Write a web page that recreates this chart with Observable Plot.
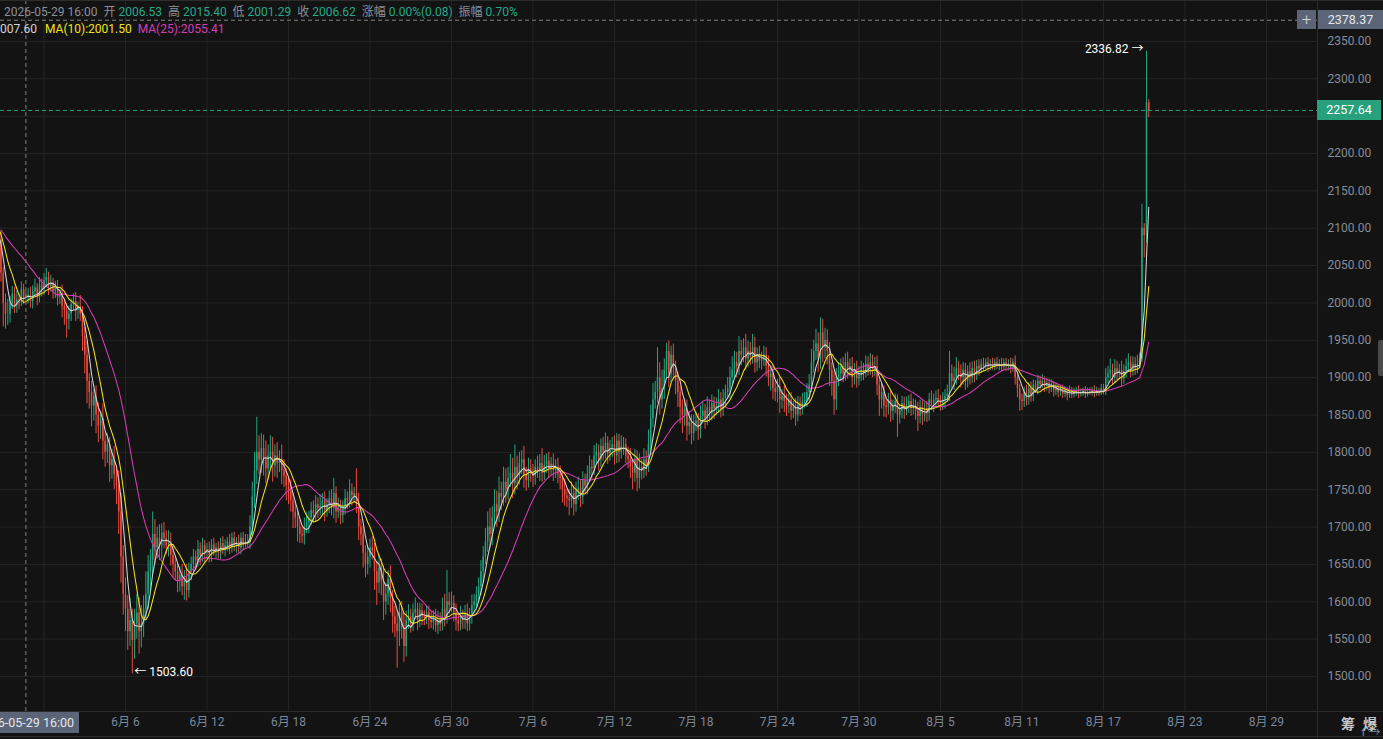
<!DOCTYPE html>
<html><head><meta charset="utf-8">
<script src="https://cdn.jsdelivr.net/npm/d3@7"></script>
<script src="https://cdn.jsdelivr.net/npm/@observablehq/plot@0.6"></script>
<style>
html,body{margin:0;padding:0;background:#131313;overflow:hidden;}
#wrap{position:relative;width:1383px;height:739px;overflow:hidden;font-family:Roboto,"Noto Sans CJK SC",sans-serif;font-size:12px;}
#wrap svg{position:absolute;left:0;top:0;}
.abs{position:absolute;white-space:nowrap;}
.g{color:#8a8f98;} .v{color:#26a88a;}
</style></head><body><div id="wrap"></div>
<script>
// ---------- DATA (4h candles) ----------
const candleStart = "2026-05-23T20:00:00Z";
const candleHours = 4;
const closes = [
2095,
2102,2090,2098,2105,2092,2088,
2100,2096,2104,2095,2110,2115,
2108,2120,2112,2105,2110,2098,
2095,2100,2088,2085,2084,2040,
2000,1985,1985,1999,2012,1996,
2004,2003,2018,2006.53,2006.62,2010,
2002,2015,2020,2008,2024,2018,
2030,2034,2022,2027,2015,2020,
2008,2012,1995,1990,1978,1985,
1998,2002,1990,1995,1985,1955,
1930,1895,1880,1862,1875,1850,
1835,1845,1815,1800,1810,1782,
1790,1770,1755,1720,1660,1610,
1590,1560,1575,1548,1570,1585,
1560,1570,1590,1610,1640,1655,
1690,1672,1685,1675,1692,1685,
1675,1680,1662,1650,1640,1628,
1635,1620,1632,1615,1640,1650,
1660,1655,1670,1662,1675,1665,
1670,1662,1676,1668,1672,1665,
1678,1670,1675,1680,1672,1685,
1675,1680,1672,1685,1678,1680,
1680,1700,1740,1775,1800,1790,
1805,1790,1778,1795,1800,1782,
1795,1785,1790,1775,1768,1755,
1748,1735,1720,1712,1700,1690,
1688,1700,1705,1712,1722,1718,
1730,1725,1728,1735,1722,1730,
1738,1725,1745,1720,1728,1715,
1725,1738,1735,1748,1742,1745,
1730,1700,1690,1665,1650,1660,
1672,1668,1640,1625,1645,1628,
1600,1610,1630,1605,1580,1570,
1560,1585,1565,1540,1575,1580,
1570,1585,1590,1575,1588,1580,
1578,1585,1575,1572,1580,1568,
1575,1570,1590,1580,1600,1595,
1598,1585,1575,1570,1580,1575,
1585,1570,1582,1595,1600,1608,
1620,1640,1660,1680,1700,1690,
1712,1730,1720,1745,1740,1760,
1750,1765,1772,1758,1780,1768,
1785,1790,1770,1762,1778,1772,
1768,1780,1775,1785,1772,1782,
1788,1778,1784,1775,1780,1770,
1765,1750,1742,1738,1735,1745,
1730,1748,1752,1740,1762,1755,
1770,1780,1778,1795,1800,1790,
1808,1800,1812,1798,1805,1810,
1795,1815,1800,1808,1810,1795,
1790,1780,1772,1790,1765,1780,
1775,1790,1782,1810,1845,1870,
1880,1900,1870,1885,1910,1935,
1905,1930,1912,1895,1880,1860,
1850,1858,1835,1840,1825,1838,
1842,1830,1848,1855,1845,1860,
1852,1865,1858,1862,1870,1858,
1872,1880,1885,1900,1910,1920,
1915,1935,1930,1940,1925,1935,
1928,1940,1920,1930,1922,1925,
1930,1915,1900,1905,1885,1880,
1888,1870,1875,1868,1862,1870,
1855,1860,1850,1865,1860,1868,
1870,1880,1890,1920,1935,1945,
1925,1960,1940,1950,1935,1910,
1895,1870,1900,1905,1915,1905,
1920,1910,1915,1900,1910,1898,
1905,1910,1908,1918,1912,1920,
1910,1915,1890,1870,1880,1862,
1860,1870,1855,1862,1868,1850,
1855,1865,1858,1862,1868,1860,
1862,1855,1848,1860,1850,1858,
1852,1870,1865,1870,1872,1868,
1865,1870,1875,1878,1905,1895,
1900,1912,1905,1900,1910,1895,
1908,1900,1912,1905,1915,1912,
1918,1915,1920,1915,1918,1915,
1920,1916,1918,1914,1920,1915,
1918,1912,1920,1900,1885,1870,
1868,1880,1872,1885,1875,1890,
1885,1895,1890,1895,1888,1892,
1885,1890,1882,1885,1880,1885,
1878,1882,1876,1882,1878,1880,
1883,1878,1880,1882,1878,1881,
1880,1883,1879,1882,1880,1885,
1882,1900,1905,1910,1900,1912,
1905,1910,1898,1908,1915,1920,
1910,1918,1912,1918,1925,2100,
2090,2268,2257.64
];
// upper wick above max(open, close)
const upperWicks = [
6,
8,5,9,6,7,10,
7,9,5,8,10,6,
9,7,6,8,5,9,
7,6,8,5,9,10,
8,12,20,10,10,9,
12,8,10,7,8.78,9,
11,8,12,6,10,8,
9,12,7,10,6,9,
10,6,12,8,9,11,
7,10,12,6,15,10,
12,18,10,15,9,14,
16,10,20,12,15,10,
14,18,12,20,25,15,
22,18,30,15,20,25,
20,25,18,30,22,15,
30,20,15,18,12,14,
10,15,12,14,10,12,
12,15,10,18,12,10,
10,8,12,9,10,7,
8,10,7,9,6,8,
7,9,8,6,10,7,
8,6,9,7,8,10,
10,15,20,25,47,22,
20,18,25,15,22,20,
15,18,12,20,15,10,
12,15,10,14,12,9,
10,12,14,9,11,13,
12,9,15,10,12,8,
10,12,20,9,11,8,
10,12,9,15,10,8,
33,15,10,12,10,14,
12,15,10,14,18,12,
20,15,12,18,10,14,
18,12,15,20,12,16,
10,12,15,8,10,9,
8,10,9,12,8,10,
12,10,15,20,42,12,
15,10,12,8,14,9,
10,12,9,14,10,12,
12,15,14,18,20,25,
15,20,18,22,15,20,
18,15,25,20,30,15,
15,12,18,10,14,12,
12,10,15,12,20,14,
10,12,9,14,10,12,
12,10,14,9,12,15,
10,12,15,10,12,9,
12,15,10,14,12,10,
10,12,14,9,11,10,
12,10,9,14,10,8,
12,15,10,14,12,18,
10,15,12,20,18,22,
15,40,20,25,15,11,
14,12,15,10,12,9,
10,14,12,15,10,12,
12,10,14,12,9,14,
10,12,9,11,14,10,
12,10,15,14,18,15,
14,20,15,12,18,14,
12,18,14,10,12,9,
12,10,14,9,12,10,
10,12,9,14,10,8,
10,8,12,10,9,11,
10,12,14,18,15,20,
15,20,18,16,14,12,
10,14,12,15,10,12,
12,14,10,12,9,12,
10,12,9,11,10,12,
10,12,14,10,12,9,
10,9,12,8,10,9,
8,10,9,12,8,10,
9,8,12,10,9,8,
10,9,12,8,10,12,
8,10,9,12,30,12,
14,15,10,12,10,9,
8,12,9,10,8,9,
6,8,5,7,6,8,
5,7,6,8,5,6,
6,8,5,9,7,6,
8,7,10,8,9,7,
6,8,7,9,6,7,
6,7,5,8,6,5,
5,6,4,7,5,6,
4,6,5,4,6,5,
5,4,6,5,4,6,
6,12,10,15,8,12,
10,8,12,9,10,12,
8,10,9,12,8,32,
6,68.82,4
];
// lower wick below min(open, close)
const lowerWicks = [
7,
6,9,7,5,8,6,
8,6,9,7,5,8,
6,8,7,9,6,8,
8,7,6,9,7,12,
32,20,15,12,8,10,
10,12,8,9,5.24,8,
9,10,7,12,8,10,
8,10,12,7,10,9,
12,10,15,20,25,14,
10,8,15,12,10,20,
25,30,22,28,20,25,
22,18,25,20,15,22,
18,20,25,30,35,28,
30,25,20,44.4,25,20,
30,22,18,15,20,25,
18,22,15,20,18,14,
12,15,14,18,12,16,
15,12,18,14,10,12,
10,12,9,14,10,12,
8,10,9,7,10,8,
9,7,10,8,9,7,
8,10,7,9,8,6,
8,10,12,15,18,20,
18,22,20,15,18,22,
15,20,12,18,15,20,
18,15,22,14,20,12,
10,12,9,14,10,12,
12,14,10,12,15,9,
12,10,14,15,9,12,
10,9,12,10,14,10,
12,18,15,20,18,14,
15,12,25,30,14,20,
25,18,15,20,22,18,
49,20,15,21,14,12,
12,10,9,14,10,12,
10,9,12,8,10,9,
12,10,9,14,10,12,
10,12,14,10,9,12,
12,10,9,12,10,9,
10,12,15,10,14,18,
15,12,20,14,18,12,
18,14,12,20,15,18,
12,15,18,14,10,12,
15,12,10,14,12,10,
10,12,9,14,10,12,
15,18,14,12,20,10,
15,10,12,14,10,12,
12,10,14,9,12,15,
10,12,9,14,10,12,
12,10,14,9,12,10,
12,15,22,12,18,14,
12,10,14,9,10,12,
12,14,20,12,14,10,
18,12,15,18,20,22,
25,15,20,12,15,10,
10,14,12,10,14,9,
12,10,14,9,10,12,
10,12,9,14,10,12,
15,12,14,10,15,12,
12,10,14,12,10,12,
10,14,12,18,15,12,
14,18,12,15,14,10,
12,10,15,9,12,10,
9,10,12,10,14,12,
18,14,20,15,18,22,
20,20,14,12,10,12,
10,12,9,14,10,12,
9,10,12,8,10,9,
10,9,14,22,12,15,
14,10,15,12,10,30,
12,10,14,9,10,12,
10,12,20,10,14,9,
12,10,9,12,10,9,
10,9,12,8,10,12,
12,10,9,14,10,12,
9,10,8,12,9,10,
6,7,5,8,6,5,
6,5,7,6,5,7,
6,7,5,10,12,15,
12,8,10,9,8,7,
6,8,7,5,8,6,
7,5,8,6,7,5,
6,5,7,4,6,5,
5,6,4,5,6,4,
4,5,6,4,5,4,
5,6,8,7,10,8,
9,8,10,7,9,8,
10,8,9,7,6,5,
30,10,9.64
];

const maWindows = [5, 10, 25];
const maNames = ["MA(5)", "MA(10)", "MA(25)"];
const maLegendValues = ["2007.60", "2001.50", "2055.41"];
const maColors = ["#d4d4d4", "#f2e21c", "#d43db4"];

const headerTime = "2026-05-29 16:00";
const headerLabels = ["开", "高", "低", "收", "涨幅", "振幅"];
const headerValues = ["2006.53", "2015.40", "2001.29", "2006.62", "0.00%(0.08)", "0.70%"];
const crossTime = "2026-05-29T16:00:00Z";
const crossPrice = 2378.37;

const xTickDates = ["2026-05-31","2026-06-06","2026-06-12","2026-06-18","2026-06-24","2026-06-30","2026-07-06","2026-07-12","2026-07-18","2026-07-24","2026-07-30","2026-08-05","2026-08-11","2026-08-17","2026-08-23","2026-08-29"];
const yTicks = [1500,1550,1600,1650,1700,1750,1800,1850,1900,1950,2000,2050,2100,2150,2200,2250,2300,2350];
const xStart = "2026-05-27T19:08:00Z", xEnd = "2026-09-01T18:10:00Z";
const yMin = 1453.1, yMax = 2404.8;
const sideLabels = ["筹", "爆"];

// ---------- BUILD ----------
const W = 1383, H = 739, MR = 66, MB = 28;
const UP = "#22a57f", DOWN = "#ee4a3e", CUR = "#26a17b";
const t0 = new Date(candleStart).getTime();
const candles = closes.map((c, i) => {
  const open = i === 0 ? c : closes[i - 1];
  return {
    t: new Date(t0 + i * candleHours * 3600e3),
    open, close: c,
    high: Math.max(open, c) + upperWicks[i],
    low: Math.min(open, c) - lowerWicks[i],
    color: c >= open ? UP : DOWN
  };
});
function movingAverage(n) {
  const out = []; let s = 0;
  for (let i = 0; i < closes.length; i++) {
    s += closes[i]; if (i >= n) s -= closes[i - n];
    if (i >= n - 1) out.push({t: candles[i].t, v: s / n});
  }
  return out;
}
const maSeries = maWindows.map(movingAverage);
const maxC = candles.reduce((a, b) => (b.high > a.high ? b : a));
const minC = candles.reduce((a, b) => (b.low < a.low ? b : a));
const last = candles[candles.length - 1];
const tickDates = xTickDates.map(s => new Date(s + "T00:00:00Z"));
const fmtTick = d => `${d.getUTCMonth() + 1}月 ${d.getUTCDate()}`;

// same scales as the plot, to hide labels that sit under the overlay boxes
const xPre = d3.scaleUtc().domain([new Date(xStart), new Date(xEnd)]).range([0, W - MR]);
const yPre = d3.scaleLinear().domain([yMin, yMax]).range([H - MB, 0]);
const crossX = xPre(new Date(crossTime));
const xLabelDates = tickDates.filter(d => Math.abs(xPre(d) - crossX) > 62);
const yLabelTicks = yTicks.filter(v => Math.abs(yPre(v) - yPre(last.close)) > 14 && Math.abs(yPre(v) - yPre(crossPrice)) > 14);

const chart = Plot.plot({
  width: W, height: H,
  marginLeft: 0, marginRight: MR, marginTop: 0, marginBottom: MB,
  style: {background: "transparent", fontFamily: "Roboto, 'Noto Sans CJK SC', sans-serif", fontSize: "12px"},
  x: {type: "utc", domain: [new Date(xStart), new Date(xEnd)]},
  y: {domain: [yMin, yMax]},
  color: {type: "identity"},
  marks: [
    Plot.gridX(tickDates, {stroke: "#242424", strokeOpacity: 1}),
    Plot.gridY(yTicks, {stroke: "#242424", strokeOpacity: 1}),
    Plot.axisX(xLabelDates, {tickSize: 0, tickPadding: 6, tickFormat: fmtTick, fill: "#7b879b", fontSize: 12}),
    Plot.axisY(yLabelTicks, {anchor: "right", tickSize: 0, tickPadding: 10, tickFormat: d => d.toFixed(2), fill: "#868d98", fontSize: 12}),
    Plot.ruleX(candles, {x: "t", y1: "low", y2: "high", stroke: "color", strokeWidth: 1, clip: true}),
    Plot.ruleX(candles, {x: "t", y1: "open", y2: "close", stroke: "color", strokeWidth: 1.5, clip: true}),
    ...maSeries.slice().reverse().map((s, k) => Plot.line(s, {x: "t", y: "v", stroke: maColors[maSeries.length - 1 - k], strokeWidth: 1.05, clip: true})),
    Plot.ruleX([new Date(crossTime)], {stroke: "#808080", strokeDasharray: "4,3", strokeWidth: 1}),
    Plot.ruleY([crossPrice], {stroke: "#808080", strokeDasharray: "4,3", strokeWidth: 1}),
    Plot.ruleY([last.close], {stroke: CUR, strokeDasharray: "4,3", strokeWidth: 1}),
    Plot.text([maxC], {x: "t", y: "high", text: d => `${d.high.toFixed(2)} →`, textAnchor: "end", dx: -3, dy: -2, fill: "#ffffff", fontSize: 12}),
    Plot.text([minC], {x: "t", y: "low", text: d => `← ${d.low.toFixed(2)}`, textAnchor: "start", dx: 2, dy: -2, fill: "#ffffff", fontSize: 12})
  ]
});
const wrap = document.getElementById("wrap");
wrap.appendChild(chart);
const xs = chart.scale("x"), ys = chart.scale("y");

function div(style, html) {
  const d = document.createElement("div");
  d.className = "abs"; d.style.cssText = style; if (html != null) d.innerHTML = html;
  wrap.appendChild(d); return d;
}
// frame lines
div("left:1317px;top:0;width:1px;height:739px;background:#2c2c2c;");
div("left:0;top:711px;width:1383px;height:1px;background:#2c2c2c;");
div("left:0;top:736px;width:1383px;height:1px;background:#2c2c2c;");
div("left:0;top:0;width:1383px;height:1px;background:#2c2c2c;");

// header line 1
let h1 = `<span class="g">${headerTime}</span>`;
headerLabels.forEach((l, i) => { h1 += `&nbsp; <span class="g">${l}</span> <span class="v">${headerValues[i]}</span>`; });
div("left:4px;top:3px;line-height:18px;font-size:12px;", h1);
// header line 2 (MA legend, first entry scrolled off the left edge as in the source)
div(`left:-100px;top:20px;width:137px;text-align:right;line-height:18px;color:${maColors[0]};`, `${maNames[0]}:${maLegendValues[0]}`);
div(`left:45px;top:20px;line-height:18px;`,
  `<span style="color:${maColors[1]}">${maNames[1]}:${maLegendValues[1]}</span>&nbsp; <span style="color:${maColors[2]}">${maNames[2]}:${maLegendValues[2]}</span>`);

// crosshair price box
const cy = ys.apply(crossPrice);
div(`left:1297px;top:${cy - 9.5}px;width:19px;height:19px;background:#5b6577;color:#d0d4da;text-align:center;line-height:18px;font-size:17px;font-weight:300;`, "+");
div(`left:1318px;top:${cy - 9.5}px;width:65px;height:19px;background:#5b6577;color:#e4e6ea;text-align:center;line-height:19px;font-size:12.5px;`, crossPrice.toFixed(2));
// last price box
const ly = ys.apply(last.close);
div(`left:1317px;top:${ly - 10}px;width:64px;height:20px;background:${CUR};color:#ffffff;text-align:center;line-height:20px;font-size:12.5px;`, last.close.toFixed(2));
// crosshair time box
const cx = xs.apply(new Date(crossTime));
div(`left:${cx - 54}px;top:712px;width:108px;height:21px;background:#5b6577;color:#e4e6ea;text-align:center;line-height:21px;font-size:12.5px;`, headerTime);
// side labels
div("left:1341px;top:713px;line-height:22px;font-size:14px;font-weight:bold;color:#c8c8c8;", sideLabels[0]);
div("left:1363px;top:713px;line-height:22px;font-size:14px;font-weight:bold;color:#c8c8c8;", sideLabels[1]);
// right tab
div("left:1378px;top:340px;width:6px;height:36px;background:#4a4a4a;border-radius:2px;");
</script></body></html>
